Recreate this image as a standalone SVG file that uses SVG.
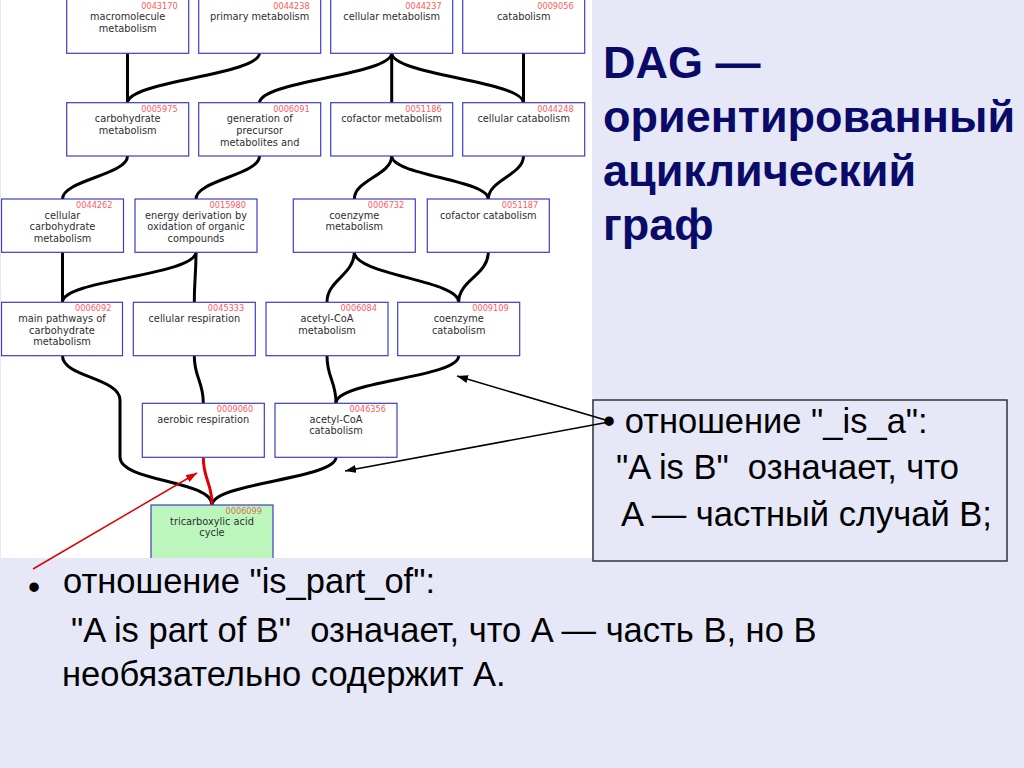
<svg xmlns="http://www.w3.org/2000/svg" width="1024" height="768" viewBox="0 0 1024 768">
<defs>
<style>
.nb{fill:#fff;stroke:#3c3cc8;stroke-width:1.2}
.nbg{fill:#bdf6bd;stroke:#3c3cc8;stroke-width:1.2}
.nt{font-family:"DejaVu Sans",sans-serif;font-size:9.8px;fill:#2e2e2e;text-anchor:middle}
.ni{font-family:"DejaVu Sans",sans-serif;font-size:8.2px;fill:#ff5a5a;text-anchor:end}
.e{fill:none;stroke:#000;stroke-width:3}
.pe{fill:none;stroke:#e00000;stroke-width:3}
.big{font-family:"Liberation Sans",Arial,sans-serif;font-size:34.5px;fill:#000;white-space:pre}
.title{font-family:"Liberation Sans",Arial,sans-serif;font-weight:bold;font-size:45px;fill:#0a0a68}
.ar{fill:none;stroke:#000;stroke-width:1.5}
.arr{fill:none;stroke:#e00000;stroke-width:1.5}
</style>
<marker id="ahb" viewBox="0 0 11 8" refX="11" refY="4" markerWidth="11" markerHeight="8" markerUnits="userSpaceOnUse" orient="auto"><path d="M0,0 L11,4 L0,8 z" fill="#000"/></marker>
<marker id="ahr" viewBox="0 0 11 8" refX="11" refY="4" markerWidth="11" markerHeight="8" markerUnits="userSpaceOnUse" orient="auto"><path d="M0,0 L11,4 L0,8 z" fill="#e00000"/></marker>
<clipPath id="gc"><rect x="1" y="0" width="591" height="558"/></clipPath>
</defs>
<rect x="0" y="0" width="1024" height="768" fill="#e6e8f8"/>
<rect x="1" y="0" width="591" height="558" fill="#fff"/>
<g clip-path="url(#gc)">
<g id="connectors">
<path class="e" d="M127.5,-3 L127.5,2 M259.5,-3 L259.5,2 M391.7,-3 L391.7,2 M523.5,-3 L523.5,2"/>
<path class="e" d="M127.5,53 L127.5,103"/>
<path class="e" d="M259.5,53 C259.5,75 127.5,81 127.5,103"/>
<path class="e" d="M391.7,53 C391.7,75 259.5,81 259.5,103"/>
<path class="e" d="M391.7,53 L391.7,103"/>
<path class="e" d="M391.7,53 C391.7,75 523.5,81 523.5,103"/>
<path class="e" d="M523.5,53 L523.5,103"/>
<path class="e" d="M127.5,156 C127.5,175 62.5,180 62.5,199"/>
<path class="e" d="M259.5,156 C259.5,175 196,180 196,199"/>
<path class="e" d="M391.7,156 C391.7,175 354.3,180 354.3,199"/>
<path class="e" d="M391.7,156 C391.7,175 488.3,180 488.3,199"/>
<path class="e" d="M523.5,156 C523.5,175 488.3,180 488.3,199"/>
<path class="e" d="M62.5,252 L62.5,302"/>
<path class="e" d="M196,252 C196,275 62.5,280 62.5,302"/>
<path class="e" d="M196,252 C196,275 194.3,280 194.3,302"/>
<path class="e" d="M354.3,252 C354.3,275 327,280 327,302"/>
<path class="e" d="M354.3,252 C354.3,275 458.7,280 458.7,302"/>
<path class="e" d="M488.3,252 C488.3,275 458.7,280 458.7,302"/>
<path class="e" d="M194.3,355.7 C194.3,378 203.3,381 203.3,403"/>
<path class="e" d="M327,355.7 C327,378 336,381 336,403"/>
<path class="e" d="M458.7,355.7 C458.7,378 336,381 336,403"/>
<path class="e" d="M62.5,355.7 C62.5,377 120,378 120,400 L120,457 C120,482 212,480 212,505"/>
<path class="e" d="M336,457.3 C336,479 212,483 212,505"/>
<path class="pe" d="M203.3,457.3 C203.3,480 212,482 212,505"/>
</g>
<g id="n0043170"><rect class="nb" x="66.7" y="-2" width="122" height="55.3"/><text class="ni" x="177.7" y="9">0043170</text><text class="nt" x="127.7" y="20.3">macromolecule</text><text class="nt" x="127.7" y="32">metabolism</text></g>
<g id="n0044238"><rect class="nb" x="198.7" y="-2" width="122" height="55.3"/><text class="ni" x="309.7" y="9">0044238</text><text class="nt" x="259.7" y="20.3">primary metabolism</text></g>
<g id="n0044237"><rect class="nb" x="330.7" y="-2" width="122" height="55.3"/><text class="ni" x="441.7" y="9">0044237</text><text class="nt" x="391.7" y="20.3">cellular metabolism</text></g>
<g id="n0009056"><rect class="nb" x="462.7" y="-2" width="122" height="55.3"/><text class="ni" x="573.7" y="9">0009056</text><text class="nt" x="523.7" y="20.3">catabolism</text></g>

<g id="n0005975"><rect class="nb" x="66.7" y="102.7" width="122" height="53.3"/><text class="ni" x="177.7" y="111.5">0005975</text><text class="nt" x="127.7" y="122.3">carbohydrate</text><text class="nt" x="127.7" y="134">metabolism</text></g>
<g id="n0006091"><rect class="nb" x="198.7" y="102.7" width="122" height="53.3"/><text class="ni" x="309.7" y="111.5">0006091</text><text class="nt" x="259.7" y="122.3">generation of</text><text class="nt" x="259.7" y="134">precursor</text><text class="nt" x="259.7" y="145.7">metabolites and</text></g>
<g id="n0051186"><rect class="nb" x="330.7" y="102.7" width="122" height="53.3"/><text class="ni" x="441.7" y="111.5">0051186</text><text class="nt" x="391.7" y="122.3">cofactor metabolism</text></g>
<g id="n0044248"><rect class="nb" x="462.7" y="102.7" width="122" height="53.3"/><text class="ni" x="573.7" y="111.5">0044248</text><text class="nt" x="523.7" y="122.3">cellular catabolism</text></g>

<g id="n0044262"><rect class="nb" x="1.5" y="199" width="122" height="53.3"/><text class="ni" x="112.5" y="207.8">0044262</text><text class="nt" x="62.5" y="218.6">cellular</text><text class="nt" x="62.5" y="230.3">carbohydrate</text><text class="nt" x="62.5" y="242">metabolism</text></g>
<g id="n0015980"><rect class="nb" x="135" y="199" width="122" height="53.3"/><text class="ni" x="246" y="207.8">0015980</text><text class="nt" x="196" y="218.6">energy derivation by</text><text class="nt" x="196" y="230.3">oxidation of organic</text><text class="nt" x="196" y="242">compounds</text></g>
<g id="n0006732"><rect class="nb" x="293.3" y="199" width="122" height="53.3"/><text class="ni" x="404.3" y="207.8">0006732</text><text class="nt" x="354.3" y="218.6">coenzyme</text><text class="nt" x="354.3" y="230.3">metabolism</text></g>
<g id="n0051187"><rect class="nb" x="427.3" y="199" width="122" height="53.3"/><text class="ni" x="538.3" y="207.8">0051187</text><text class="nt" x="488.3" y="218.6">cofactor catabolism</text></g>

<g id="n0006092"><rect class="nb" x="1.5" y="302.3" width="121" height="53.4"/><text class="ni" x="111.5" y="311.1">0006092</text><text class="nt" x="62" y="321.9">main pathways of</text><text class="nt" x="62" y="333.6">carbohydrate</text><text class="nt" x="62" y="345.3">metabolism</text></g>
<g id="n0045333"><rect class="nb" x="133.3" y="302.3" width="122" height="53.4"/><text class="ni" x="244.3" y="311.1">0045333</text><text class="nt" x="194.3" y="321.9">cellular respiration</text></g>
<g id="n0006084"><rect class="nb" x="266" y="302.3" width="122" height="53.4"/><text class="ni" x="377" y="311.1">0006084</text><text class="nt" x="327" y="321.9">acetyl-CoA</text><text class="nt" x="327" y="333.6">metabolism</text></g>
<g id="n0009109"><rect class="nb" x="397.7" y="302.3" width="122" height="53.4"/><text class="ni" x="508.7" y="311.1">0009109</text><text class="nt" x="458.7" y="321.9">coenzyme</text><text class="nt" x="458.7" y="333.6">catabolism</text></g>

<g id="n0009060"><rect class="nb" x="142.3" y="403.3" width="122" height="54"/><text class="ni" x="253.3" y="412.2">0009060</text><text class="nt" x="203.3" y="422.8">aerobic respiration</text></g>
<g id="n0046356"><rect class="nb" x="275" y="403.3" width="122" height="54"/><text class="ni" x="386" y="412.2">0046356</text><text class="nt" x="336" y="422.8">acetyl-CoA</text><text class="nt" x="336" y="434.3">catabolism</text></g>

<g id="n0006099"><rect class="nbg" x="151" y="505" width="122" height="58"/><text class="ni" x="262" y="513.5" style="fill:#d8705a">0006099</text><text class="nt" x="212" y="524.8">tricarboxylic acid</text><text class="nt" x="212" y="536.3">cycle</text></g>
</g>

<g id="title">
<text class="title" x="603" y="78">DAG —</text>
<text class="title" x="603" y="132">ориентированный</text>
<text class="title" x="603" y="186">ациклический</text>
<text class="title" x="603" y="240">граф</text>
</g>

<g id="isa-box">
<rect x="593" y="400" width="414" height="161" fill="#e6e8f8" stroke="#333" stroke-width="1.5"/>
<text class="big" x="603" y="433">• отношение "_is_a":</text>
<text class="big" x="616" y="479">"A is B"  означает, что</text>
<text class="big" x="621" y="526">A — частный случай B;</text>
</g>

<g id="annotations">
<path class="ar" d="M609,421 L457,376" marker-end="url(#ahb)"/>
<path class="ar" d="M609,422 L345,471" marker-end="url(#ahb)"/>
<path class="arr" d="M33,569 L197,473" marker-end="url(#ahr)"/>
</g>

<g id="partof-text">
<text class="big" x="28" y="599">•</text>
<text class="big" x="63" y="593">отношение "is_part_of":</text>
<text class="big" x="71" y="642">"A is part of B"  означает, что A — часть B, но B</text>
<text class="big" x="62" y="686">необязательно содержит A.</text>
</g>
</svg>
